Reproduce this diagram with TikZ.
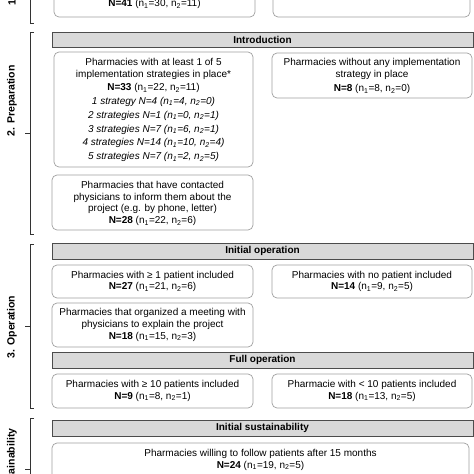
\documentclass[tikz,border=0pt]{standalone}
\usepackage{fontspec}
\setmainfont{Liberation Sans}
\newcommand{\nsub}[2]{(n\textsubscript{1}=#1, n\textsubscript{2}=#2)}
\tikzset{
  box/.style={draw=gray!75, rounded corners=5pt, line width=0.7pt},
  bar/.style={draw=black!70, fill=gray!30, line width=1pt},
  txt/.style={align=center, font=\fontsize{10}{11.8}\selectfont, inner sep=0pt},
  head/.style={font=\fontsize{10}{11}\selectfont\bfseries, inner sep=0pt},
  stage/.style={rotate=90, font=\fontsize{10.5}{12}\selectfont\bfseries, inner sep=0pt},
  brk/.style={draw=black!80, line width=0.8pt}
}

\begin{document}
\begin{tikzpicture}[x=1pt,y=-1pt]
\useasboundingbox (0,0) rectangle (474,474);
\clip (0,0) rectangle (474,474);
% 1. stage (cut at the top)
\draw [box] (54,-30) rectangle (255,17); \node [txt] (adoptN) at (154.5,4) {\textbf{N=41} \nsub{30}{11}};
\draw [box] (273,-30) rectangle (470,17);
\draw [brk] (30,-10) -- (30,23) -- (34,23);
\node [stage, anchor=west] (lblone) at (12,5.5) {1.};
% 2. Preparation
\draw [bar] (52,32) rectangle (473,47); \node [head] (intro) at (262.5,39.5) {Introduction};
\draw [box] (54,52) rectangle (253,167);
\node [txt] (strat) at (153.5,110) {Pharmacies with at least 1 of 5\\ implementation strategies in place*\\[1.5pt]
  \textbf{N=33} \nsub{22}{11}\\[2pt]
  \textit{1 strategy N=4 \nsub{4}{0}}\\[2pt]
  \textit{2 strategies N=1 \nsub{0}{1}}\\[2pt]
  \textit{3 strategies N=7 \nsub{6}{1}}\\[2pt]
  \textit{4 strategies N=14 \nsub{10}{4}}\\[2pt]
  \textit{5 strategies N=7 \nsub{2}{5}}};
\draw [box] (272,53) rectangle (472,98);
\node [txt] (nostrat) at (372,76) {Pharmacies without any implementation\\ strategy in place\\[3pt] \textbf{N=8} \nsub{8}{0}};
\draw [box] (52,175) rectangle (253,230);
\node [txt] (contact) at (152.5,203.5) {Pharmacies that have contacted\\ physicians to inform them about the\\ project (e.g. by phone, letter)\\ \textbf{N=28} \nsub{22}{6}};
\draw [brk] (34,32) -- (30,32) -- (30,234) -- (34,234);
\draw [brk] (30,133) -- (25,133);
\node [stage] (lbltwo) at (12,101) {2. Preparation};
% 3. Operation
\draw [bar] (52,243) rectangle (473,259); \node [head] (initop) at (262.5,251) {Initial operation};
\draw [box] (52,265) rectangle (253,298);
\node [txt] (onepat) at (152.5,281.5) {Pharmacies with ≥ 1 patient included\\ \textbf{N=27} \nsub{21}{6}};
\draw [box] (272,265) rectangle (472,298);
\node [txt] (nopat) at (372,281.5) {Pharmacies with no patient included\\ \textbf{N=14} \nsub{9}{5}};
\draw [box] (52,303) rectangle (253,347);
\node [txt] (meet) at (152.5,325) {Pharmacies that organized a meeting with\\ physicians to explain the project\\ \textbf{N=18} \nsub{15}{3}};
\draw [bar] (52,352) rectangle (473,368); \node [head] (fullop) at (262.5,360) {Full operation};
\draw [box] (52,374) rectangle (253,408);
\node [txt] (tenpat) at (152.5,391) {Pharmacies with ≥ 10 patients included\\ \textbf{N=9} \nsub{8}{1}};
\draw [box] (272,374) rectangle (472,408);
\node [txt] (lesspat) at (372,391) {Pharmacie with < 10 patients included\\ \textbf{N=18} \nsub{13}{5}};
\draw [brk] (34,244) -- (30,244) -- (30,408) -- (34,408);
\draw [brk] (30,326) -- (25,326);
\node [stage] (lblthree) at (12,327) {3. Operation};
% 4. Sustainability (cut at the bottom)
\draw [bar] (52,420) rectangle (473,436); \node [head] (initsus) at (262.5,428) {Initial sustainability};
\draw [box] (52,443) rectangle (469,500);
\node [txt] (willing) at (260.5,460) {Pharmacies willing to follow patients after 15 months\\ \textbf{N=24} \nsub{19}{5}};
\draw [brk] (34,418) -- (30,418) -- (30,490);
\draw [brk] (30,469) -- (25,469);
\node [stage] (lblfour) at (12,469) {4. Sustainability};
\end{tikzpicture}
\end{document}
